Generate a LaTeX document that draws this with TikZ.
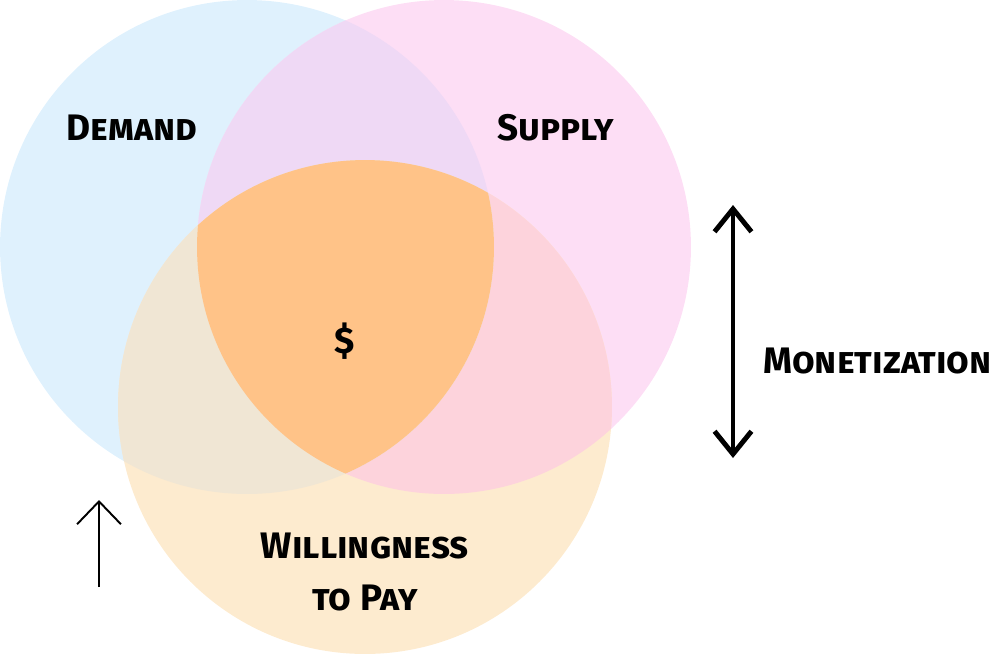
\documentclass[tikz,border=0pt]{standalone}
\usepackage{fontspec}
\setmainfont{Fira Sans}
\usetikzlibrary{arrows.meta}

\definecolor{demandblue}{RGB}{223,241,253}
\definecolor{supplypink}{RGB}{253,222,245}
\definecolor{payorange}{RGB}{253,235,207}
\definecolor{bluepink}{RGB}{239,217,245}
\definecolor{blueorange}{RGB}{240,230,212}
\definecolor{pinkorange}{RGB}{253,211,220}
\definecolor{core}{RGB}{255,195,136}

\begin{document}
\begin{tikzpicture}[x=0.02cm, y=-0.02cm,
    ring/.style = {circle, minimum size=9.88cm, inner sep=0pt},
    txt/.style = {font=\fontsize{21}{30}\selectfont\bfseries\scshape, align=center},
    bigarrow/.style = {line width=2.8pt, {Straight Barb[length=13pt,width=21pt]}-{Straight Barb[length=13pt,width=21pt]}},
    smallarrow/.style = {line width=1.1pt, -{Straight Barb[length=13pt,width=25pt]}}]
    \useasboundingbox (0,0) rectangle (1000,654);

    \node[ring, fill=demandblue] (D) at (247,247) {};
    \node[ring, fill=supplypink] (S) at (444,247) {};
    \node[ring, fill=payorange] (W) at (365,407) {};

    % overlaps
    \begin{scope}
        \clip (S.center) circle (4.94cm);
        \fill[pinkorange] (W.center) circle (4.94cm);
    \end{scope}
    \begin{scope}
        \clip (D.center) circle (4.94cm);
        \fill[bluepink] (S.center) circle (4.94cm);
        \fill[blueorange] (W.center) circle (4.94cm);
        \clip (S.center) circle (4.94cm);
        \fill[core] (W.center) circle (4.94cm);
    \end{scope}

    \node[txt] (demand) at (132,128) {Demand};
    \node[txt] (supply) at (556,128) {Supply};
    \node[txt] (money) at (345,341) {\$};
    \node[txt] (wtp) at (365,572) {Willingness\\to Pay};
    \node[txt, anchor=west] (monet) at (757,361) {Monetization};

    \coordinate (mtop) at (733,205);
    \coordinate (mbot) at (733,458);
    \coordinate (utop) at (99,500);
    \coordinate (ubot) at (99,587);

    \draw[bigarrow] (mtop) -- (mbot);
    \draw[smallarrow] (ubot) -- (utop);
\end{tikzpicture}
\end{document}
